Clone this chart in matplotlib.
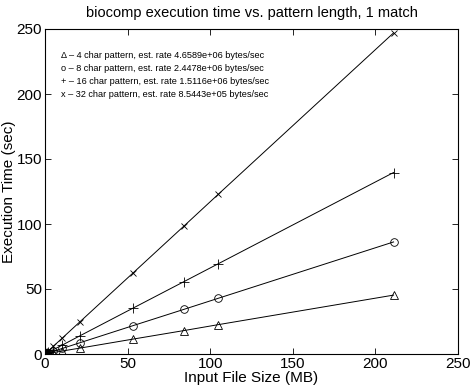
import matplotlib
matplotlib.use("Agg")
import matplotlib.pyplot as plt

plt.rcParams['font.family'] = ['Liberation Sans', 'DejaVu Sans']

sizes_mb = [0.1, 0.5, 1, 2, 5, 10.5, 21, 53, 84, 105, 211]
t_4 = [0.02, 0.11, 0.22, 0.43, 1.1, 2.3, 4.5, 11.4, 18.0, 22.6, 45.3]
t_8 = [0.04, 0.2, 0.41, 0.82, 2.0, 4.3, 8.6, 21.7, 34.3, 42.9, 86.2]
t_16 = [0.07, 0.33, 0.66, 1.3, 3.3, 6.9, 13.9, 35.1, 55.6, 69.5, 139.6]
t_32 = [0.12, 0.59, 1.17, 2.3, 5.9, 12.3, 24.6, 62.0, 98.3, 123.0, 247.0]

legend_lines = [
    "\u0394 \u2013 4 char pattern, est. rate 4.6589e+06 bytes/sec",
    "o \u2013 8 char pattern, est. rate 2.4478e+06 bytes/sec",
    "+ \u2013 16 char pattern, est. rate 1.5116e+06 bytes/sec",
    "x \u2013 32 char pattern, est. rate 8.5443e+05 bytes/sec",
]
title = "biocomp execution time vs. pattern length, 1 match"
xticks = [0, 50, 100, 150, 200, 250]
yticks = [0, 50, 100, 150, 200, 250]

fig = plt.figure(figsize=(4.74, 3.89), dpi=100)
ax = fig.add_axes([45/474, 35/389, 413/474, 325/389])

style = dict(color='black', lw=0.7, mfc='none', mec='black', mew=0.6)
ax.plot(sizes_mb, t_4, marker='^', ms=5.5, **style)
ax.plot(sizes_mb, t_8, marker='o', ms=5.5, **style)
ax.plot(sizes_mb, t_16, marker='+', ms=6.5, **style)
ax.plot(sizes_mb, t_32, marker='x', ms=5, **style)

ax.set_xlim(0, 250)
ax.set_ylim(0, 250)
ax.set_xticks(xticks)
ax.set_yticks(yticks)
ax.tick_params(direction='in', top=True, right=True, labelsize=11, length=4, width=0.6, pad=2)
for s in ax.spines.values():
    s.set_linewidth(0.8)

ax.set_title(title, fontsize=10.5, pad=9)
ax.set_xlabel("Input File Size (MB)", fontsize=11, labelpad=0)
ax.set_ylabel("Execution Time (sec)", fontsize=11, labelpad=0.5)

y0 = 55
for i, line in enumerate(legend_lines):
    fig.text(61/474, 1 - (y0 + i*13.3)/389, line, fontsize=6.6, va='center', ha='left')

fig.savefig("out.png", dpi=100)
